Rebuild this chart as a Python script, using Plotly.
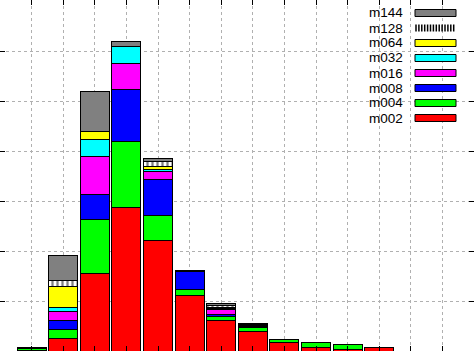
import plotly.graph_objects as go

# ---- data ----
x = [1, 2, 3, 4, 5, 6, 7, 8, 9, 10, 11, 12]
m002 = [0.02, 0.25, 1.55, 2.87, 2.21, 1.12, 0.61, 0.39, 0.18, 0.08, 0.04, 0.07]
m004 = [0.03, 0.18, 1.08, 1.32, 0.51, 0.12, 0.08, 0.09, 0.06, 0.09, 0.09, 0.00]
m008 = [0.01, 0.18, 0.50, 1.04, 0.71, 0.35, 0.04, 0.02, 0.00, 0.00, 0.00, 0.00]
m016 = [0.00, 0.18, 0.77, 0.52, 0.16, 0.00, 0.10, 0.01, 0.00, 0.00, 0.00, 0.00]
m032 = [0.00, 0.08, 0.33, 0.35, 0.04, 0.02, 0.02, 0.01, 0.00, 0.00, 0.00, 0.00]
m064 = [0.00, 0.42, 0.17, 0.00, 0.06, 0.00, 0.03, 0.01, 0.00, 0.00, 0.00, 0.00]
m128 = [0.01, 0.13, 0.00, 0.00, 0.10, 0.00, 0.03, 0.01, 0.00, 0.00, 0.00, 0.00]
m144 = [0.00, 0.50, 0.79, 0.09, 0.06, 0.01, 0.04, 0.01, 0.00, 0.00, 0.00, 0.00]

series = [("m002", m002, "#ff0000"), ("m004", m004, "#00ff00"),
          ("m008", m008, "#0000ff"), ("m016", m016, "#ff00ff"),
          ("m032", m032, "#00ffff"), ("m064", m064, "#ffff00"),
          ("m128", m128, None), ("m144", m144, "#808080")]

W, H = 474, 351
fig = go.Figure()
for name, vals, col in series:
    if col is None:
        marker = dict(color="white", pattern=dict(shape="|", fgcolor="black",
                                                  bgcolor="white", size=5, solidity=0.45),
                      line=dict(color="black", width=1))
    else:
        marker = dict(color=col, line=dict(color="black", width=1))
    fig.add_trace(go.Bar(x=x, y=vals, name=name, marker=marker, width=0.92,
                         showlegend=False))

# ---- custom gnuplot-style legend (text left, swatch right) ----
shapes = []
annotations = []
leg = list(reversed(series))
y0 = 13.0
dy = 15.0
for i, (name, vals, col) in enumerate(leg):
    cy = y0 + i * dy
    annotations.append(dict(x=405 / W, y=1 - cy / H, xref="paper", yref="paper",
                            text=name, showarrow=False, xanchor="right", yanchor="middle",
                            font=dict(family="Liberation Sans, Arial", size=13.5, color="black")))
    if col is None:
        for k in range(14):
            px = 416 + k * 2.9
            shapes.append(dict(type="line", xref="paper", yref="paper",
                               x0=px / W, x1=px / W, y0=1 - (cy - 3.5) / H, y1=1 - (cy + 3.5) / H,
                               line=dict(color="black", width=1.5)))
    else:
        shapes.append(dict(type="rect", xref="paper", yref="paper",
                           x0=415 / W, x1=456 / W, y0=1 - (cy - 3.5) / H, y1=1 - (cy + 3.5) / H,
                           fillcolor=col, line=dict(color="black", width=1)))

fig.update_layout(
    barmode="stack",
    width=W, height=H,
    margin=dict(l=0, r=0, t=0, b=0),
    plot_bgcolor="white", paper_bgcolor="white",
    shapes=shapes, annotations=annotations,
    showlegend=False,
)
fig.update_xaxes(range=[0, 15], dtick=1, tick0=0, showticklabels=False,
                 ticks="inside", ticklen=5, tickcolor="black",
                 showgrid=True, gridcolor="#b0b0b0", griddash="dot", gridwidth=1,
                 showline=True, linecolor="black", linewidth=1, mirror="ticks",
                 zeroline=False)
fig.update_yaxes(range=[0, 7.02], dtick=1, tick0=0, showticklabels=False,
                 ticks="inside", ticklen=5, tickcolor="black",
                 showgrid=True, gridcolor="#b0b0b0", griddash="dot", gridwidth=1,
                 showline=True, linecolor="black", linewidth=1, mirror="ticks",
                 zeroline=False)

fig.write_html("out.html")
